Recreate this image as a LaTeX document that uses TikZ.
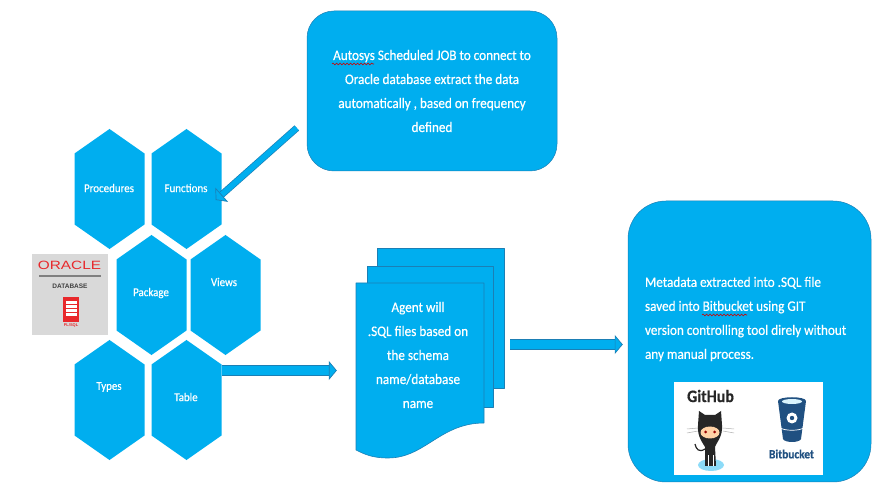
\documentclass[tikz,border=0pt]{standalone}
\usepackage{fontspec}
\setmainfont{Carlito}[FakeStretch=0.91,FakeBold=0.5]
\newfontfamily\logofont{Liberation Sans}
\usetikzlibrary{shapes.symbols,arrows.meta,decorations.pathmorphing}
\definecolor{boxblue}{HTML}{00AEEF}
\definecolor{edgeblue}{HTML}{1B7FB5}
\definecolor{oraclered}{HTML}{E8282B}
\definecolor{bucketblue}{HTML}{205081}
\tikzset{
  hexcell/.style={shape=signal,signal to=north and south,signal pointer angle=110,fill=boxblue,
    minimum width=70bp,minimum height=71bp,inner sep=0pt},
  celltext/.style={text=white,font=\fontsize{12bp}{13bp}\selectfont},
  boxtext/.style={text=white,align=center,font=\fontsize{14.5bp}{24bp}\selectfont},
  roundbox/.style={draw=edgeblue,fill=boxblue,rectangle,line width=0.5bp},
  sheet/.style={draw=edgeblue,fill=boxblue,rectangle,line width=0.6bp},
  blockarrow/.style={draw=edgeblue,double=boxblue,line width=0.7bp,
    -{Triangle[length=8bp,width=19bp,fill=boxblue]}},
  squiggle/.style={draw=red!80!black,line width=0.6bp,decorate,
    decoration={snake,amplitude=1bp,segment length=3.5bp}},
}
\begin{document}
\begin{tikzpicture}[>=latex,line join=bevel,]
        \useasboundingbox (0bp,0bp) rectangle (888bp,499bp);
        %% hexagons
        \node (procedures) at (109.5bp,310.0bp) [hexcell] {};
        \node (functions) at (186.5bp,310.0bp) [hexcell] {};
        \node (package) at (151.5bp,204.0bp) [hexcell] {};
        \node (views) at (225.5bp,204.0bp) [hexcell] {};
        \node (types) at (109.5bp,99.0bp) [hexcell] {};
        \node (table) at (186.5bp,99.0bp) [hexcell] {};
        \node (procedurestext) at (109.0bp,311.0bp) [celltext] {Procedures};
        \node (functionstext) at (186.0bp,311.0bp) [celltext] {Functions};
        \node (packagetext) at (151.0bp,206.0bp) [celltext] {Package};
        \node (viewstext) at (224.0bp,217.0bp) [celltext] {Views};
        \node (typestext) at (109.0bp,112.0bp) [celltext] {Types};
        \node (tabletext) at (186.0bp,102.0bp) [celltext] {Table};
        %% oracle logo
        \node (oracle) at (70.0bp,204.5bp) [fill=black!15,minimum width=76bp,minimum height=81bp,inner sep=0pt] {};
        \node (oracleword) at (69.5bp,234.0bp) [text=oraclered,inner sep=0pt] {\logofont\fontsize{12bp}{12bp}\selectfont\scalebox{1.28}[1]{ORACLE}};
        \node (oraclerule) at (69.5bp,223.0bp) [fill=black!50,minimum width=62bp,minimum height=1.2bp,inner sep=0pt] {};
        \node (oracledb) at (70.0bp,213.0bp) [text=black!75,inner sep=0pt] {\logofont\bfseries\fontsize{6.5bp}{7bp}\selectfont DATABASE};
        \node (oracleicon) at (71.0bp,189.5bp) [fill=oraclered,minimum width=16bp,minimum height=25bp,inner sep=0pt] {};
        \fill[white] (65.5bp,195.0bp) rectangle (76.5bp,197.5bp);
        \fill[white] (65.5bp,191.0bp) rectangle (76.5bp,193.5bp);
        \fill[white] (65.5bp,187.0bp) rectangle (76.5bp,189.5bp);
        \fill[white] (65.5bp,183.0bp) rectangle (76.5bp,185.5bp);
        \node (oracleplsql) at (71.0bp,174.0bp) [text=oraclered,inner sep=0pt] {\logofont\bfseries\fontsize{4bp}{4bp}\selectfont PL/SQL};
        %% boxes
        \node (jobbox) at (432.0bp,408.0bp) [roundbox,rounded corners=27bp,minimum width=250bp,minimum height=160bp,boxtext,inner sep=0pt] {Autosys Scheduled JOB to connect to\\Oracle database extract the data\\automatically , based on frequency\\defined};
        \node (docback) at (440.5bp,181.0bp) [sheet,minimum width=127bp,minimum height=140bp] {};
        \node (docmiddle) at (430.0bp,162.5bp) [sheet,minimum width=126bp,minimum height=141bp] {};
        \draw[sheet] (356.0bp,216.0bp) -- (484.0bp,216.0bp) -- (484.0bp,76.0bp)
          .. controls (440.0bp,76.0bp) and (425.0bp,41.0bp) .. (388.0bp,41.0bp)
          .. controls (372.0bp,41.0bp) and (364.0bp,45.0bp) .. (356.0bp,49.0bp) -- cycle;
        \node (docfront) at (420.0bp,128.5bp) [minimum width=128bp,minimum height=175bp,inner sep=0pt] {};
        \node (agenttext) at (418.0bp,144.0bp) [boxtext] {Agent will\\.SQL files based on\\the schema\\name/database\\name};
        \node (metabox) at (749.5bp,157.5bp) [roundbox,rounded corners=38bp,minimum width=243bp,minimum height=281bp] {};
        \node (metatext) at (760.0bp,180.0bp) [boxtext,align=flush left,text width=230bp,inner sep=0pt] {Metadata extracted into .SQL file\\saved into Bitbucket using GIT\\version controlling tool direly without\\any manual process.};
        \draw[squiggle] (332.0bp,435.0bp) -- (374.0bp,435.0bp);
        \draw[squiggle] (702.0bp,184.0bp) -- (747.0bp,184.0bp);
        %% logos panel
        \node (logos) at (748.5bp,70.5bp) [fill=white,minimum width=149bp,minimum height=93bp,inner sep=0pt] {};
        \node (github) at (710.5bp,103.0bp) [text=black!85,inner sep=0pt] {\bfseries\fontsize{17.5bp}{17bp}\selectfont GitHub};
        \fill[boxblue!45] (711.0bp,34.0bp) ellipse (13.0bp and 6.0bp);
        \draw[black!30,line width=0.5bp] (687.0bp,70.0bp) -- (698.0bp,71.0bp) (687.0bp,66.0bp) -- (698.0bp,68.0bp) (734.0bp,70.0bp) -- (723.0bp,71.0bp) (734.0bp,66.0bp) -- (723.0bp,68.0bp);
        \fill[black!85] (698.0bp,74.0bp) -- (699.0bp,88.0bp) -- (705.0bp,84.0bp) -- (715.0bp,84.0bp) -- (721.0bp,88.0bp) -- (722.0bp,74.0bp)
          .. controls (723.0bp,62.0bp) and (716.0bp,56.0bp) .. (715.0bp,52.0bp) -- (716.0bp,33.0bp) -- (705.0bp,33.0bp) -- (705.0bp,52.0bp)
          .. controls (703.0bp,56.0bp) and (697.0bp,62.0bp) .. (698.0bp,74.0bp) -- cycle;
        \draw[black!85,line width=1.2bp] (705.0bp,50.0bp) .. controls (699.0bp,46.0bp) and (696.0bp,50.0bp) .. (695.0bp,55.0bp);
        \fill[orange!35!white] (710.0bp,66.5bp) ellipse (9.5bp and 6.0bp);
        \fill[red!60!black] (705.5bp,67.0bp) circle (1.5bp) (714.5bp,67.0bp) circle (1.5bp);
        \draw[white,line width=0.5bp] (708.0bp,33.0bp) -- (708.0bp,44.0bp) (713.0bp,33.0bp) -- (713.0bp,44.0bp);
        \fill[bucketblue] (778.0bp,98.0bp) .. controls (778.0bp,103.0bp) and (806.0bp,103.0bp) .. (806.0bp,98.0bp)
          -- (801.0bp,60.0bp) .. controls (799.0bp,56.0bp) and (785.0bp,56.0bp) .. (783.0bp,60.0bp) -- cycle;
        \fill[boxblue!15] (792.0bp,97.5bp) ellipse (10.0bp and 2.5bp);
        \fill[white] (792.0bp,81.0bp) circle (5.5bp);
        \fill[bucketblue] (792.0bp,81.0bp) circle (2.2bp);
        \draw[white,line width=0.7bp] (780.5bp,71.0bp) .. controls (785.0bp,68.0bp) and (799.0bp,68.0bp) .. (803.5bp,71.0bp);
        \node (bitbucket) at (791.5bp,45.0bp) [text=bucketblue,inner sep=0pt] {\bfseries\fontsize{12.5bp}{12bp}\selectfont Bitbucket};
        %% arrows
        \draw[blockarrow,double distance=5.5bp] ([shift={(-10bp,-37bp)}]jobbox.west) -- ([shift={(-6bp,-11bp)}]functions.east);
        \draw[blockarrow,double distance=9bp] (table.east |- docfront.west) -- ([xshift=-19bp]docfront.west);
        \draw[blockarrow,double distance=9bp] ([xshift=6bp,yshift=-3bp]docback.east |- metabox.west) -- ([xshift=-5bp,yshift=-3bp]metabox.west);
        %
    \end{tikzpicture}
\end{document}
